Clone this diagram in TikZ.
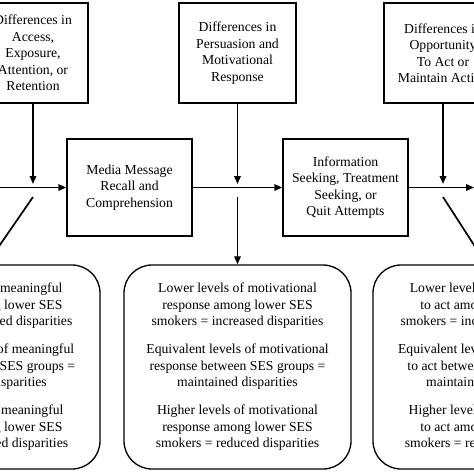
\documentclass[tikz,border=0pt]{standalone}
\usepackage{fontspec}
\setmainfont{Liberation Serif}
\usetikzlibrary{arrows.meta}
\begin{document}
\begin{tikzpicture}[x=1pt,y=-1pt,
  box/.style={draw, line width=1.3pt, align=center, inner sep=0pt, font=\fontsize{13.7}{16.5}\selectfont},
  topbox/.style={box, minimum height=100pt},
  midbox/.style={box, minimum width=125pt, minimum height=97pt},
  rbox/.style={box, rounded corners=28pt, minimum width=227pt, minimum height=204pt},
  conn/.style={line width=1.7pt},
  arr/.style={conn, -{Triangle[length=8pt,width=6.5pt]}}]
\useasboundingbox (0,0) rectangle (474,474);
\clip (0,0) rectangle (474,474);
% top boxes
\node[topbox, minimum width=110pt] (t1) at (33,53) {Differences in\\Access,\\Exposure,\\Attention, or\\Retention};
\node[topbox, minimum width=117pt] (t2) at (237.5,53) {Differences in\\Persuasion and\\Motivational\\Response};
\node[topbox, minimum width=118pt] (t3) at (443,53) {Differences in\\Opportunity\\To Act or\\Maintain Action};
% middle boxes
\node[midbox] (m1) at (129.5,187.5) {Media Message\\Recall and\\Comprehension};
\node[midbox] (m2) at (345.5,187.5) {Information\\Seeking, Treatment\\Seeking, or\\Quit Attempts};
% bottom boxes
\node[rbox] (b1) at (-13.5,367) {Lower levels of meaningful\\exposure among lower SES\\smokers = increased disparities\\[11.5pt]Equivalent levels of meaningful\\exposure between SES groups =\\maintained disparities\\[11.5pt]Higher levels of meaningful\\exposure among lower SES\\smokers = reduced disparities};
\node[rbox] (b2) at (237.5,367) {Lower levels of motivational\\response among lower SES\\smokers = increased disparities\\[11.5pt]Equivalent levels of motivational\\response between SES groups =\\maintained disparities\\[11.5pt]Higher levels of motivational\\response among lower SES\\smokers = reduced disparities};
\node[rbox] (b3) at (486.5,367) {Lower levels of opportunity\\to act among lower SES\\smokers = increased disparities\\[11.5pt]Equivalent levels of opportunity\\to act between SES groups =\\maintained disparities\\[11.5pt]Higher levels of opportunity\\to act among lower SES\\smokers = reduced disparities};
% junction coordinates
\coordinate (a1) at (33,184);
\coordinate (a2) at (237.5,184);
\coordinate (a3) at (443,184);
\coordinate (d1) at (33,197);
\coordinate (d2) at (237.5,197);
\coordinate (d3) at (443,197);
\coordinate (lin) at (0,187.5);
\coordinate (rout) at (474,187.5);
% connectors
\draw[arr] (t1.south) -- (a1);
\draw[arr] (t2.south) -- (a2);
\draw[arr] (t3.south) -- (a3);
\draw[arr] (lin) -- (m1.west);
\draw[arr] (m1.east) -- (m2.west);
\draw[arr] (m2.east) -- (rout);
\draw[arr] (d1) -- (b1.north);
\draw[arr] (d2) -- (b2.north);
\draw[arr] (d3) -- (b3.north);
\end{tikzpicture}
\end{document}
